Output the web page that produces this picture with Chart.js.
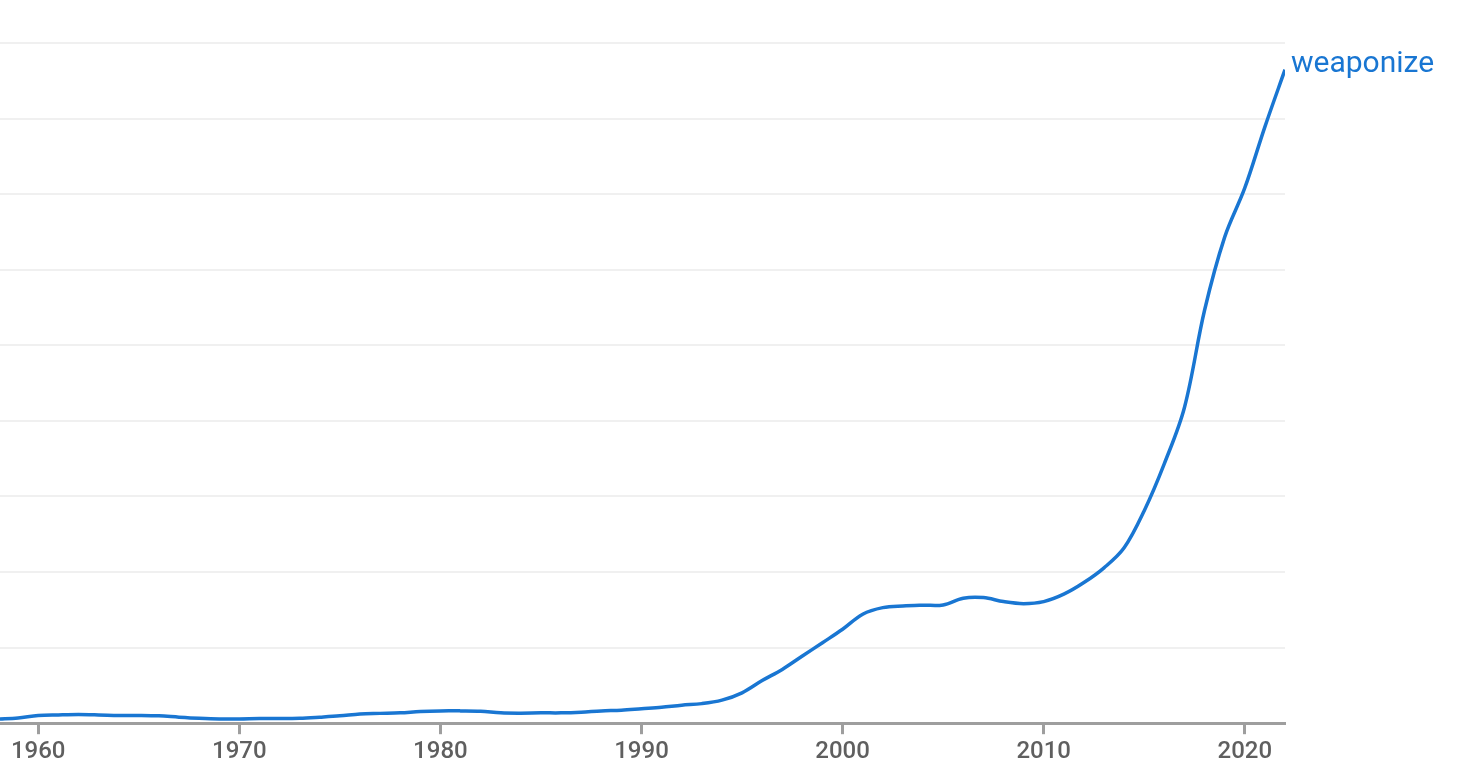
<!DOCTYPE html>
<html>
<head>
<meta charset="utf-8">
<script src="https://cdn.jsdelivr.net/npm/chart.js@4"></script>
<style>
  html, body { margin: 0; padding: 0; background: #ffffff; }
  #wrap { width: 1460px; height: 778px; }
</style>
</head>
<body>
<div id="wrap"><canvas id="chart" width="1460" height="778"></canvas></div>
<script>
(function () {
  'use strict';

  // ngram frequency, in units of one gridline step (y labels are cropped out of the source)
  var SERIES_NAME = 'weaponize';
  var YEARS = [1958, 1959, 1960, 1961, 1962, 1963, 1964, 1965, 1966, 1967, 1968, 1969,
    1970, 1971, 1972, 1973, 1974, 1975, 1976, 1977, 1978, 1979,
    1980, 1981, 1982, 1983, 1984, 1985, 1986, 1987, 1988, 1989,
    1990, 1991, 1992, 1993, 1994, 1995, 1996, 1997, 1998, 1999,
    2000, 2001, 2002, 2003, 2004, 2005, 2006, 2007, 2008, 2009,
    2010, 2011, 2012, 2013, 2014, 2015, 2016, 2017, 2018, 2019,
    2020, 2021, 2022];
  var VALUES = [0.055, 0.070, 0.102, 0.110, 0.115, 0.110, 0.102, 0.102, 0.097, 0.080, 0.066, 0.057,
    0.057, 0.062, 0.062, 0.066, 0.080, 0.097, 0.123, 0.130, 0.137, 0.155,
    0.163, 0.163, 0.159, 0.137, 0.133, 0.137, 0.137, 0.146, 0.163, 0.172,
    0.192, 0.212, 0.239, 0.259, 0.305, 0.402, 0.564, 0.712, 0.889, 1.065,
    1.243, 1.442, 1.529, 1.552, 1.561, 1.565, 1.654, 1.662, 1.609, 1.582,
    1.609, 1.707, 1.861, 2.056, 2.321, 2.812, 3.435, 4.178, 5.464, 6.432,
    7.082, 7.891, 8.647];
  var X_TICKS = [1960, 1970, 1980, 1990, 2000, 2010, 2020];
  var X_MIN = 1958.1, X_MAX = 2022;
  var Y_MAX = 9;

  var BLUE = '#1976d2';
  var AXIS_GREY = '#9e9e9e';

  var points = YEARS.map(function (y, i) { return { x: y, y: VALUES[i] }; });

  // series name next to the line's last point
  var endLabel = {
    id: 'endLabel',
    afterDatasetsDraw: function (chart) {
      var meta = chart.getDatasetMeta(0);
      var last = meta.data[meta.data.length - 1];
      if (!last) return;
      var ctx = chart.ctx;
      ctx.save();
      ctx.font = '400 30px Roboto';
      ctx.fillStyle = BLUE;
      ctx.textAlign = 'left';
      ctx.textBaseline = 'alphabetic';
      ctx.fillText(SERIES_NAME, last.x + 6, last.y + 2);
      ctx.restore();
    }
  };

  new Chart(document.getElementById('chart').getContext('2d'), {
    type: 'line',
    data: {
      datasets: [{
        label: SERIES_NAME,
        data: points,
        borderColor: BLUE,
        borderWidth: 3.5,
        pointRadius: 0,
        fill: false,
        tension: 0.35
      }]
    },
    options: {
      responsive: false,
      animation: false,
      layout: { padding: { left: 0, right: 175, top: 43, bottom: 9 } },
      plugins: {
        legend: { display: false },
        tooltip: { enabled: false },
        title: { display: false }
      },
      scales: {
        x: {
          type: 'linear',
          min: X_MIN,
          max: X_MAX,
          afterBuildTicks: function (axis) {
            axis.ticks = X_TICKS.map(function (v) { return { value: v }; });
          },
          ticks: {
            autoSkip: false,
            maxRotation: 0,
            padding: 3,
            color: '#5f5f5f',
            font: { family: 'Roboto', size: 24, weight: '500' },
            callback: function (v) { return String(v); }
          },
          grid: {
            drawOnChartArea: false,
            drawTicks: true,
            tickLength: 11,
            tickWidth: 3,
            tickColor: AXIS_GREY
          },
          border: { display: true, color: AXIS_GREY, width: 3 }
        },
        y: {
          min: 0,
          max: Y_MAX,
          ticks: { display: false, stepSize: 1 },
          grid: { color: '#f0f0f0', lineWidth: 2, drawTicks: false },
          border: { display: false }
        }
      }
    },
    plugins: [endLabel]
  });
})();
</script>
</body>
</html>
